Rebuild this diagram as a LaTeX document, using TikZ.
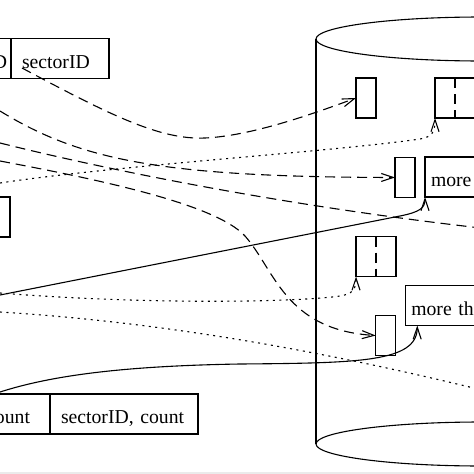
\documentclass[tikz,border=0pt]{standalone}
\usepackage{fontspec}
\setmainfont{Liberation Serif}
\usetikzlibrary{arrows.meta}

\begin{document}
\begin{tikzpicture}[x=1pt,y=-1pt,line width=1.1pt,
    cell/.style={draw,minimum height=40pt,inner ysep=0pt,outer sep=0pt,
                 text height=19pt,text depth=0pt,font=\fontsize{19.7pt}{23pt}\selectfont},
    slot/.style={draw,minimum width=20pt,minimum height=40pt,inner sep=0pt,outer sep=0pt},
    dashline/.style={dash pattern=on 10pt off 6pt},
    dotline/.style={dash pattern=on 2pt off 4.5pt},
    openhead/.style={arrows=-{Straight Barb[length=12pt,width=8pt]}}]

            %\draw [help lines] (0,0) grid (474,474);
            \useasboundingbox (0,0) rectangle (474,474);
            \clip (0,0) rectangle (474,474);
            \fill[black!8] (0,472) rectangle (474,474);

            % records on the left
            \path   (11,58.5)   node (idcell)  [cell,anchor=east,inner xsep=4pt] {D}
                    (60,58.5)   node (sector)  [cell,text width=76pt,inner xsep=11pt,align=left] {sectorID}
                    (10,217)    node (leftbox) [cell,anchor=east,minimum width=40pt] {}
                    (50,414)    node (cntcell) [cell,anchor=east,inner xsep=20pt] {ount}
                    (124,414)   node (seccnt)  [cell,text width=126pt,inner xsep=11pt,align=left] {sectorID, count};

            % the disk
            \draw (316,39) -- (316,444);
            \draw (482,39) ellipse [x radius=166pt,y radius=22pt];
            \draw (482,444) ellipse [x radius=166pt,y radius=22pt];

            \path   (366,98)     node (slotA) [slot] {}
                    (435,98)     node (pairB) [slot,anchor=west,minimum width=60pt] {}
                    (405,177.5)  node (slotC) [slot] {}
                    (425,177)    node (moreD) [cell,anchor=west,text width=100pt,inner xsep=6pt,align=left] {more}
                    (376,256.5)  node (pairE) [slot,minimum width=40pt] {}
                    (405.3,305.5) node (moreF) [cell,anchor=west,text width=100pt,inner xsep=6pt,align=left] {more th}
                    (385.7,335.5) node (slotG) [slot] {};

            \draw[dashline] ([xshift=20pt]pairB.north west) -- ([xshift=20pt]pairB.south west);
            \draw[dashline] (pairE.north) -- (pairE.south);

            % loose ends
            \coordinate (s1)  at (22,68);
            \coordinate (ina) at (0,111);
            \coordinate (inb) at (0,143);
            \coordinate (inc) at (0,161);
            \coordinate (ind) at (0,183);
            \coordinate (ine) at (0,295);
            \coordinate (inf) at (0,293);
            \coordinate (ing) at (0,312);
            \coordinate (inh) at (0,392);
            \coordinate (outb) at (490,229);
            \coordinate (outg) at (490,392);

            \draw[openhead,dashline] (s1) .. controls (110,115) and (160,140) .. (205,138)
                  .. controls (250,136) and (310,115) .. (node cs: name=slotA, anchor=west);
            \draw[openhead,dashline] (ina) .. controls (80,160) and (160,177) .. (node cs: name=slotC, anchor=west);
            \draw[dashline] (inb) .. controls (120,173) and (300,208) .. (outb);
            \draw[openhead,dashline] (inc) .. controls (90,178) and (215,203) .. (245,236)
                  .. controls (275,270) and (285,330) .. (node cs: name=slotG, anchor=west);
            \draw[openhead,dotline] (ind) .. controls (120,165) and (330,152) .. (420,139)
                  .. controls (432,137) and (435,132) .. (node cs: name=pairB, anchor=south west);
            \draw[openhead] (ine) -- (400,216) .. controls (420,212) and (425,208) .. (node cs: name=moreD, anchor=south west);
            \draw[openhead,dotline] (inf) .. controls (150,305) and (300,302) .. (340,296)
                  .. controls (352,294) and (356,290) .. (node cs: name=pairE, anchor=south west);
            \draw[dotline] (ing) .. controls (160,322) and (320,350) .. (outg);
            \draw[openhead] (inh) .. controls (50,376) and (120,366) .. (240,364)
                  .. controls (360,363) and (417,362) .. ([xshift=12pt]moreF.south west);
        \end{tikzpicture}
\end{document}
